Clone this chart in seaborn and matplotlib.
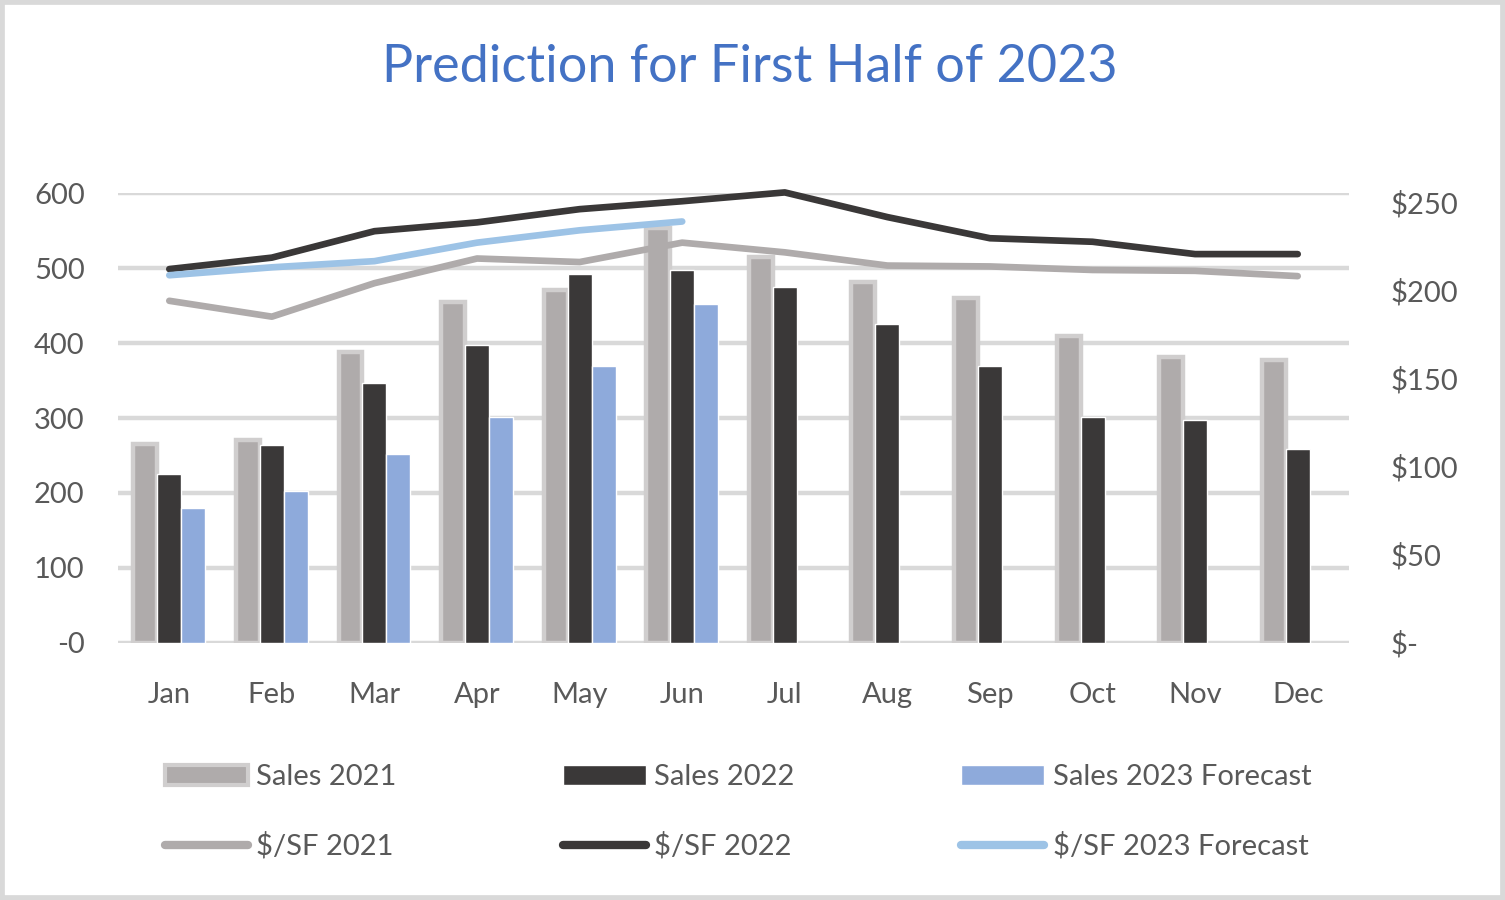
import numpy as np
import pandas as pd
import matplotlib
matplotlib.use("Agg")
import matplotlib.pyplot as plt
import matplotlib.patches as mpatches
from matplotlib.lines import Line2D
import seaborn as sns

# ── Data ─────────────────────────────────────────────────────────────────────
months = ["Jan", "Feb", "Mar", "Apr", "May", "Jun",
          "Jul", "Aug", "Sep", "Oct", "Nov", "Dec"]
sales_2021 = [265, 271, 388, 455, 471, 554, 515, 482, 460, 410, 382, 377]
sales_2022 = [225, 264, 347, 397, 492, 497, 475, 425, 369, 302, 297, 258]
sales_2023 = [180, 202, 252, 302, 369, 452]
psf_2021 = [194, 185, 204, 218, 216, 227, 221.5, 214, 213.5, 211.5, 211, 208]
psf_2022 = [212, 218.5, 233.5, 238.5, 246, 250.5, 255.5, 241.5, 229.5, 227.5, 220.5, 220.5]
psf_2023 = [208.5, 213, 216.5, 227, 234, 239]

left_ticks = [0, 100, 200, 300, 400, 500, 600]
left_labels = ["-0", "100", "200", "300", "400", "500", "600"]
right_ticks = [0, 50, 100, 150, 200, 250]
right_labels = ["$-", "$50", "$100", "$150", "$200", "$250"]

c_2021, c_2021_edge = "#AFABAB", "#D0CECE"
c_2022 = "#3A3838"
c_2023_bar, c_2023_line = "#8EAADB", "#9DC3E6"
txt = "#595959"

bars = pd.concat([
    pd.DataFrame({"month": months, "series": "Sales 2021", "value": sales_2021}),
    pd.DataFrame({"month": months, "series": "Sales 2022", "value": sales_2022}),
    pd.DataFrame({"month": months,
                  "series": "Sales 2023 Forecast",
                  "value": sales_2023 + [np.nan] * (len(months) - len(sales_2023))}),
], ignore_index=True)

sns.set_theme(style="white")
plt.rcParams["font.family"] = ["Lato", "DejaVu Sans"]

fig = plt.figure(figsize=(15.05, 9), dpi=100)
ax = fig.add_axes([118 / 1505, 1 - 642.7 / 900, (1349 - 118) / 1505, 449.4 / 900])

# ── Bars (left axis) ─────────────────────────────────────────────────────────
sns.barplot(data=bars, x="month", y="value", hue="series",
            palette=[c_2021, c_2022, c_2023_bar], width=0.7,
            errorbar=None, saturation=1, ax=ax, legend=False)
for b in ax.containers[0]:
    b.set_edgecolor(c_2021_edge)
    b.set_linewidth(3.2)

ax.set_xlim(-0.5, 11.5)
ax.set_ylim(0, 600)
ax.set_yticks(left_ticks)
ax.set_yticklabels(left_labels)
ax.set_xlabel("")
ax.set_ylabel("")
ax.grid(axis="y", color="#D9D9D9", lw=3.2)
ax.set_axisbelow(True)
for s in ax.spines.values():
    s.set_visible(False)
ax.tick_params(axis="y", length=0, pad=24, labelsize=21, labelcolor=txt)
ax.tick_params(axis="x", length=0, pad=28, labelsize=21, labelcolor=txt)

# ── Lines (right axis) ───────────────────────────────────────────────────────
ax2 = ax.twinx()
x_pos = np.arange(len(months))
for vals, col in [(psf_2021, c_2021), (psf_2022, c_2022), (psf_2023, c_2023_line)]:
    sns.lineplot(x=x_pos[:len(vals)], y=vals, color=col, lw=4.8, ax=ax2,
                 solid_capstyle="round", clip_on=False)
ax2.set_ylim(0, 255)
ax2.set_yticks(right_ticks)
ax2.set_yticklabels(right_labels)
ax2.set_ylabel("")
ax2.grid(False)
for s in ax2.spines.values():
    s.set_visible(False)
ax2.tick_params(axis="y", length=0, pad=30, labelsize=21, labelcolor=txt)

# ── Title, legend, frame ─────────────────────────────────────────────────────
fig.text(750 / 1505, 1 - 67 / 900, "Prediction for First Half of 2023",
         ha="center", va="center", fontsize=37.5, color="#4472C4")

handles = [
    mpatches.Patch(facecolor=c_2021, edgecolor=c_2021_edge, lw=3),
    Line2D([], [], color=c_2021, lw=6, solid_capstyle="round"),
    mpatches.Patch(facecolor=c_2022),
    Line2D([], [], color=c_2022, lw=6, solid_capstyle="round"),
    mpatches.Patch(facecolor=c_2023_bar),
    Line2D([], [], color=c_2023_line, lw=6, solid_capstyle="round"),
]
labels = ["Sales 2021", "$/SF 2021", "Sales 2022", "$/SF 2022",
          "Sales 2023 Forecast", "$/SF 2023 Forecast"]
fig.legend(handles, labels, ncol=3, loc="center left",
           bbox_to_anchor=(150 / 1505, 1 - 812 / 900),
           frameon=False, fontsize=21, labelcolor=txt,
           handlelength=2.86, handletextpad=0.28, columnspacing=5.7,
           labelspacing=1.45, borderpad=0)

fig.patches.append(mpatches.Rectangle((0, 0), 1, 1, transform=fig.transFigure,
                                      fill=False, edgecolor="#D9D9D9", lw=7))

plt.savefig("out.png", dpi=100)
plt.close()
